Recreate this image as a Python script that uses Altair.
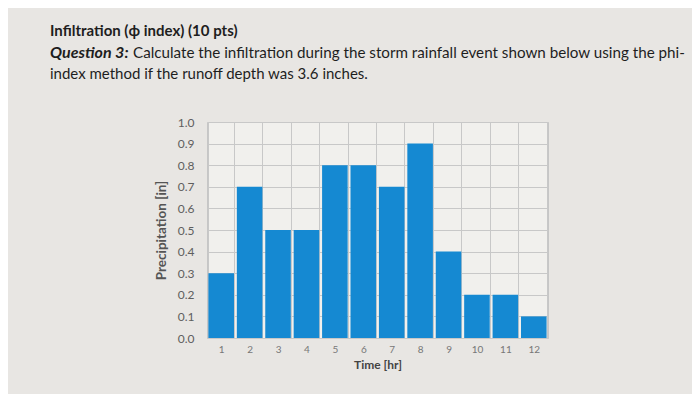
import altair as alt
import pandas as pd

# rainfall hyetograph
hours = [str(h) for h in range(1, 13)]
precip = [0.3, 0.7, 0.5, 0.5, 0.8, 0.8, 0.7, 0.9, 0.4, 0.2, 0.2, 0.1]
y_ticks = [0.0, 0.1, 0.2, 0.3, 0.4, 0.5, 0.6, 0.7, 0.8, 0.9, 1.0]

heading = "Infiltration (\u03d5 index) (10 pts)"
question_label = "Question 3:"
question_rest = ("Calculate the infiltration during the storm rainfall event "
                 "shown below using the phi-")
question_line2 = "index method if the runoff depth was 3.6 inches."

FONT = "Lato"
BAR_BLUE = "#1589d2"

df = pd.DataFrame({"hour": hours, "precip": precip})

bars = alt.Chart(df).mark_bar(color=BAR_BLUE).encode(
    alt.X("hour:O", sort=hours, title="Time [hr]",
          scale=alt.Scale(paddingInner=0.1, paddingOuter=0.05),
          axis=alt.Axis(labelAngle=0, tickBand="extent", grid=True,
                        ticks=False, domain=False, labelPadding=6,
                        labelFontSize=10, labelColor="#777777",
                        titleFontSize=12, titleColor="#444444",
                        titlePadding=5)),
    alt.Y("precip:Q", title="Precipitation [in]",
          scale=alt.Scale(domain=[0, 1], nice=False),
          axis=alt.Axis(values=y_ticks, format=".1f", ticks=False,
                        domain=False, labelPadding=13, labelFontSize=12,
                        labelColor="#5e5e5e", titleFontSize=13.5,
                        titleColor="#555555", titlePadding=9))
)


def note(text, x, y, size=15, weight="normal", style="normal"):
    return alt.Chart(pd.DataFrame({"t": [text]})).mark_text(
        align="left", baseline="alphabetic", font=FONT, fontSize=size,
        fontWeight=weight, fontStyle=style, color="#1e1e1e"
    ).encode(text="t:N", x=alt.value(x), y=alt.value(y))


chart = alt.layer(
    bars,
    note(heading, -157, -86, weight="bold"),
    note(question_label, -157, -64, size=16, weight="bold", style="italic"),
    note(question_rest, -74, -64, size=15.2),
    note(question_line2, -157, -43),
).properties(
    width=341,
    height=216,
    autosize=alt.AutoSizeParams(type="none"),
    padding={"left": 199, "top": 114, "right": 144, "bottom": 56},
).configure(
    background="#e8e6e3",
    font=FONT,
).configure_view(
    fill="#f1f0ed",
    stroke="#c6c6c6",
).configure_axis(
    gridColor="#c8c8c8",
    gridOpacity=1,
    titleFontWeight="bold",
)

chart.save("out.html", embed_options={"renderer": "svg", "actions": False})
